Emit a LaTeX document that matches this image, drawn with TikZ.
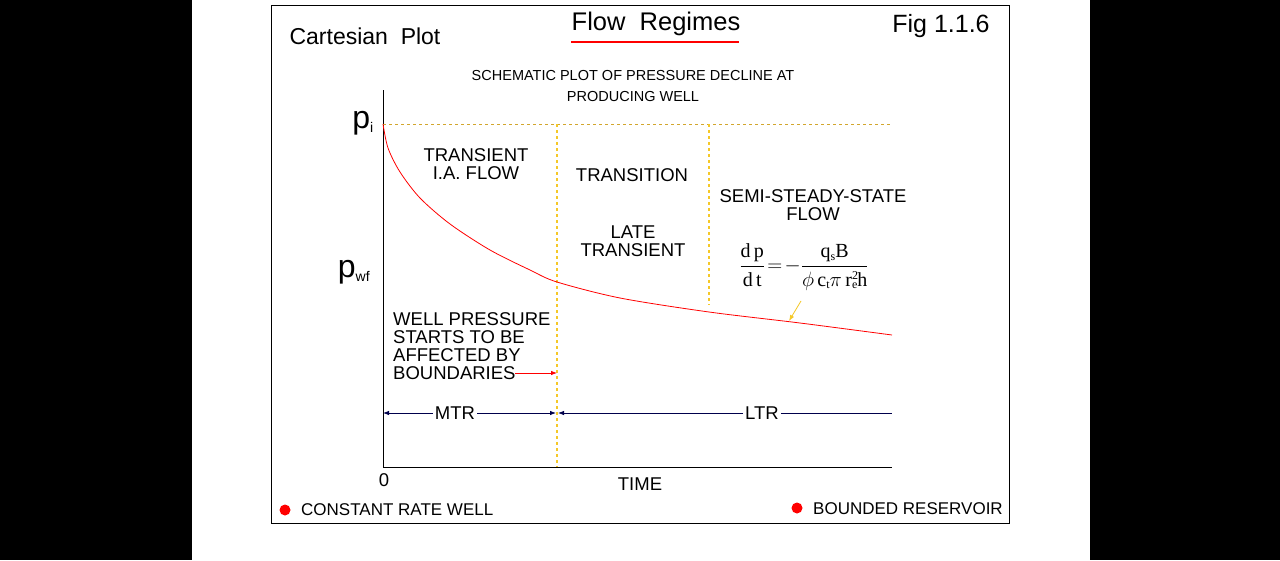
\documentclass[tikz,border=0pt]{standalone}
\usepackage{fontspec}
\setmainfont{Liberation Sans}
\newfontfamily\serf{Liberation Serif}
\usetikzlibrary{arrows.meta}
\definecolor{ylw}{RGB}{245,200,40}
\newcommand{\sr}[1]{\hbox{\serf #1}}
\newcommand{\tsc}{\fontsize{12}{12}\selectfont}
\begin{document}
\begin{tikzpicture}[x=1pt,y=-1pt,
 lbl/.style={font=\fontsize{18.5}{18}\selectfont,align=center,inner sep=0},
 sm/.style={font=\fontsize{14.5}{21}\selectfont,align=center,inner sep=0},
 ydash/.style={draw=ylw,dashed,line width=1.3pt},
 nav/.style={draw=blue!30!black,thick}]
\useasboundingbox (0,0) rectangle (1280,560);
\fill[black] (0,0) rectangle (1280,560);
\fill[white] (192,0) rectangle (1090,560);
\draw[thick] (271,5) rectangle (1009,523);
\node[lbl,font=\fontsize{23}{23}\selectfont] (cp) at (365,36) {Cartesian\ \ Plot};
\node[lbl,font=\fontsize{25.5}{25}\selectfont] (fr) at (656,24) {Flow\ \ Regimes};
\draw[red,line width=2.5pt] (571,42) -- (739,42);
\node[lbl,font=\fontsize{25}{25}\selectfont] (fig) at (941,26) {Fig 1.1.6};
\node[sm] (sch) at (633,86) {SCHEMATIC PLOT OF PRESSURE DECLINE AT\\PRODUCING WELL};
% axes
\coordinate (o) at (383,467);
\coordinate (yt) at (383,90);
\coordinate (xe) at (892,467);
\draw[thick] (yt) -- (o) -- (xe);
\draw[draw=brown!70!yellow,dashed] (383,124) -- (892,124);
\draw[ydash] (557,124) -- (557,467);
\draw[ydash] (709,124) -- (709,305);
\draw[red,thick] plot[smooth] coordinates {(383,124)(388,148)(400,172)(420,198)(450,224)(490,250)(530,270)(557,282)(620,298)(709,312)(800,323)(892,335)};
\node[lbl,font=\fontsize{32}{32}\selectfont] (pi) at (363,123) {p\textsubscript{\fontsize{14}{14}\selectfont i}};
\node[lbl,font=\fontsize{32}{32}\selectfont] (pwf) at (354,272) {p\textsubscript{\fontsize{14}{14}\selectfont wf}};
\node[lbl] (t1) at (476,164) {TRANSIENT\\I.A. FLOW};
\node[lbl] (t2) at (632,175) {TRANSITION};
\node[lbl] (t3) at (633,241) {LATE\\TRANSIENT};
\node[lbl] (t4) at (813,205) {SEMI-STEADY-STATE\\FLOW};
\node[inner sep=0,font=\serf\fontsize{20}{20}\selectfont] (eq) at (804,267) {$\displaystyle\frac{\sr{d\,p}}{\sr{d\,t}}\!=\!-\frac{\sr{q\raisebox{-0.3ex}{\tsc s}B}}{\phi\,\sr{c\raisebox{-0.3ex}{\tsc t}}\pi\,\sr{r\rlap{\raisebox{0.7ex}{\tsc 2}}\raisebox{-0.3ex}{\tsc e}h}}$};
\node[lbl,align=left,anchor=north west,font=\fontsize{18.5}{18}\selectfont] (w) at (393,312) {WELL PRESSURE\\STARTS TO BE\\AFFECTED BY\\BOUNDARIES};
\coordinate (ra) at (557,373);
\draw[red,thick,-{Latex[length=6pt]}] (515,373) -- (ra);
\coordinate (ya1) at (801,301);
\coordinate (ya2) at (789,321);
\draw[ylw,thick,-{Latex[length=6pt]}] (ya1) -- (ya2);
\node[lbl,fill=white,inner sep=2pt] (mtr) at (455,413) {MTR};
\node[lbl,fill=white,inner sep=2pt] (ltr) at (762,413) {LTR};
\coordinate (a1) at (383,413);
\coordinate (a2) at (556,413);
\coordinate (a3) at (558,413);
\coordinate (a4) at (892,413);
\draw[nav,-{Latex[length=6pt]}] (mtr) -- (a1);
\draw[nav,-{Latex[length=6pt]}] (mtr) -- (a2);
\draw[nav,-{Latex[length=6pt]}] (ltr) -- (a3);
\draw[nav] (ltr) -- (a4);
\node[lbl] (zero) at (384,480) {0};
\node[lbl] (time) at (640,484) {TIME};
\fill[red] (285,510) circle (5.5);
\fill[red] (797,508) circle (5.5);
\node[lbl,anchor=west,font=\fontsize{17}{17}\selectfont] (crw) at (301,510) {CONSTANT RATE WELL};
\node[lbl,anchor=west,font=\fontsize{17}{17}\selectfont] (br) at (813,509) {BOUNDED RESERVOIR};
\end{tikzpicture}
\end{document}
